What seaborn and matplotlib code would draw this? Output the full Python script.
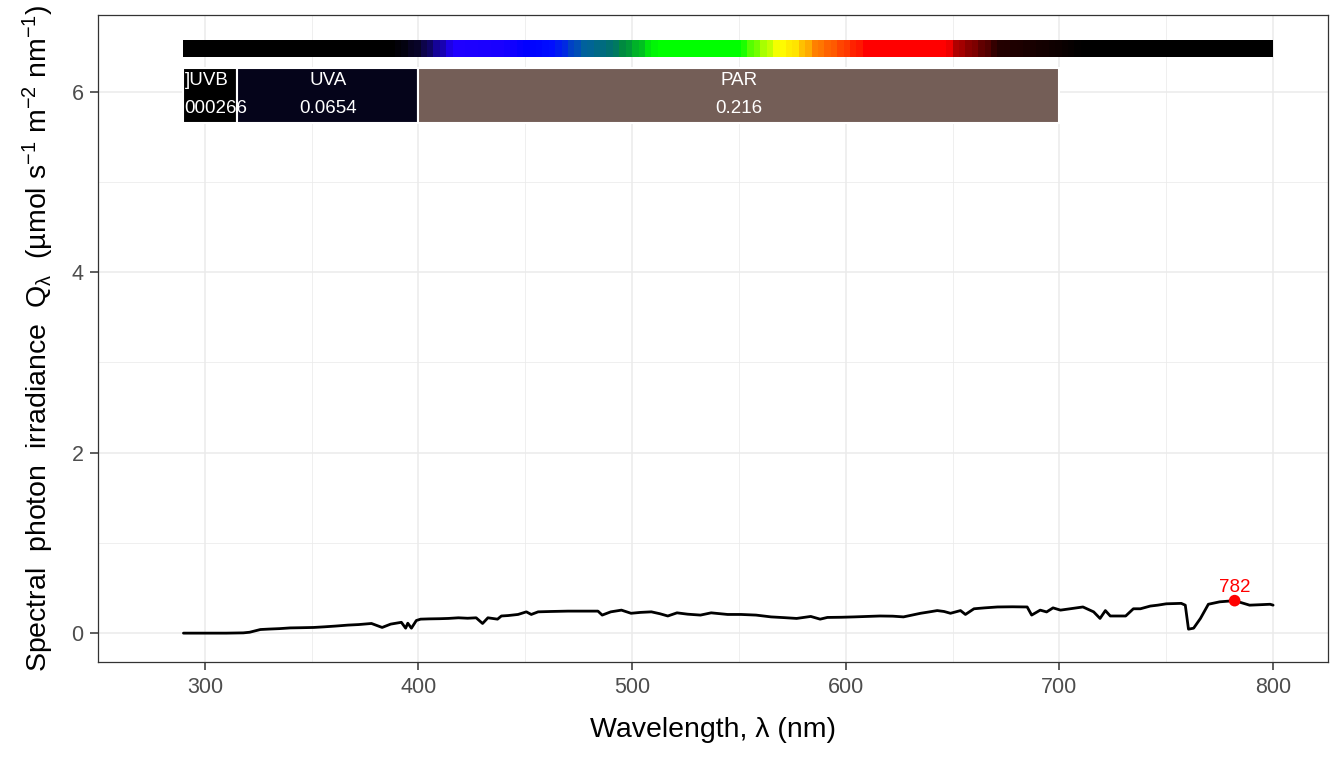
import numpy as np
import pandas as pd
import matplotlib
matplotlib.use("Agg")
import matplotlib.pyplot as plt
import seaborn as sns
from matplotlib.colors import LinearSegmentedColormap

# spectral photon irradiance (wavelength in nm)
wavelength = [290, 300, 310, 318, 321, 326, 330, 335, 340, 345, 351, 356, 361, 367, 372,
              378, 383, 387, 392, 394, 395, 396.7, 399, 401, 405, 410, 414, 418.7, 423,
              427, 430, 432.5, 437, 438.8, 442, 446.6, 450.5, 452.8, 456, 462, 470, 478,
              484, 486, 490, 495, 499.5, 504, 509, 513, 516.7, 521, 526, 532, 537, 544.7,
              551, 558, 565, 571, 577, 583.6, 588, 591.4, 598, 604, 610, 616, 622, 627,
              631, 635, 639, 642.8, 646, 649, 653.7, 656, 660, 665, 671, 678, 684.9, 687,
              691, 694, 697, 700.5, 705, 711, 716, 719, 721.5, 723.8, 727, 731, 734.6,
              737.9, 742.5, 746, 750, 757, 758.9, 760.4, 762.8, 766, 769.7, 775, 782,
              789, 794, 798.6, 800]
irradiance = [0.0, 0.0, 0.0, 0.003, 0.01, 0.04, 0.045, 0.05, 0.058, 0.06, 0.063, 0.07,
              0.078, 0.089, 0.095, 0.107, 0.063, 0.1, 0.12, 0.055, 0.11, 0.055, 0.14,
              0.155, 0.158, 0.16, 0.163, 0.17, 0.165, 0.17, 0.107, 0.17, 0.155, 0.19,
              0.195, 0.207, 0.236, 0.207, 0.236, 0.24, 0.244, 0.244, 0.244, 0.2, 0.236,
              0.255, 0.22, 0.23, 0.236, 0.215, 0.19, 0.225, 0.21, 0.2, 0.225, 0.207,
              0.207, 0.2, 0.18, 0.172, 0.163, 0.185, 0.155, 0.174, 0.176, 0.18, 0.185,
              0.19, 0.188, 0.18, 0.2, 0.22, 0.235, 0.25, 0.24, 0.22, 0.25, 0.207, 0.27,
              0.28, 0.29, 0.292, 0.29, 0.2, 0.255, 0.235, 0.28, 0.255, 0.27, 0.29, 0.236,
              0.163, 0.25, 0.19, 0.19, 0.19, 0.27, 0.27, 0.30, 0.31, 0.325, 0.33, 0.31,
              0.044, 0.055, 0.163, 0.32, 0.347, 0.36, 0.31, 0.315, 0.32, 0.31]

peak_wl = 782
peak_val = 0.36

# waveband summaries (UVB text is cut on the left in the original)
band_names = ["]UVB", "UVA", "PAR"]
band_values = ["000266", "0.0654", "0.216"]
band_lo = [290, 315, 400]
band_hi = [315, 400, 700]
band_colours = ["#000000", "#05041A", "#745E57"]

# colour stops for the wavelength colour bar
cbar_wl = [290, 388, 400, 416, 440, 451, 464, 477, 490, 496, 504, 511, 550, 559, 565, 569,
           577, 586, 596, 610, 647, 652, 662, 672, 697, 712, 800]
cbar_col = ["#000000", "#000000", "#0A0530", "#2000FF", "#1800FF", "#0000FF", "#0010FF",
            "#0060A0", "#007070", "#008A40", "#00C020", "#00FF00", "#00FF00", "#80FF00",
            "#D0FF00", "#FFFF00", "#FFE000", "#FF8000", "#FF5000", "#FF0000", "#FF0000",
            "#B00000", "#700000", "#250000", "#100000", "#000000", "#000000"]

sns.set_theme(style="white")
plt.rcParams["font.family"] = ["Liberation Sans", "DejaVu Sans"]
plt.rcParams["mathtext.fontset"] = "custom"
plt.rcParams["mathtext.rm"] = "Liberation Sans"
plt.rcParams["mathtext.it"] = "Liberation Sans"
plt.rcParams["mathtext.default"] = "regular"

fig = plt.figure(figsize=(13.44, 7.68), dpi=100)
ax = fig.add_axes([0.0729, 0.138, 0.9152, 0.8425])

df = pd.DataFrame({"wl": wavelength, "q": irradiance})
sns.lineplot(data=df, x="wl", y="q", color="black", linewidth=2.0, ax=ax, zorder=4)
sns.scatterplot(x=[peak_wl], y=[peak_val], color="red", s=70, edgecolor="none", ax=ax, zorder=5)
ax.text(peak_wl, peak_val + 0.05, str(peak_wl), color="red", fontsize=13.5,
        ha="center", va="bottom", zorder=5)

# wavelength colour bar
cmap = LinearSegmentedColormap.from_list(
    "vis", [((w - 290) / 510, c) for w, c in zip(cbar_wl, cbar_col)])
tile_w = 3
tiles = np.arange(290, 800, tile_w)
ax.bar(tiles, 0.19, width=tile_w, bottom=6.386, align="edge",
       color=[cmap((t + tile_w / 2 - 290) / 510) for t in tiles], linewidth=0, zorder=3)

# waveband boxes
for lo, hi, col, name, val in zip(band_lo, band_hi, band_colours, band_names, band_values):
    ax.bar(lo, 0.61, width=hi - lo, bottom=5.654, align="edge", color=col,
           edgecolor="white", linewidth=1.5, zorder=3)
    if name.startswith("]"):
        xpos, ha = lo + 0.6, "left"
    else:
        xpos, ha = (lo + hi) / 2, "center"
    ax.text(xpos, 6.12, name, color="white", fontsize=13.5, ha=ha, va="center", zorder=6)
    ax.text(xpos, 5.81, val, color="white", fontsize=13.5, ha=ha, va="center", zorder=6)

ax.set_xlim(251, 825.7)
ax.set_ylim(-0.32, 6.85)
ax.set_xticks([300, 400, 500, 600, 700, 800])
ax.set_xticks([250, 350, 450, 550, 650, 750], minor=True)
ax.set_yticks([0, 2, 4, 6])
ax.set_yticks([1, 3, 5], minor=True)
ax.grid(which="major", color="#EBEBEB", linewidth=1.1, zorder=0)
ax.grid(which="minor", color="#EBEBEB", linewidth=0.55, zorder=0)
ax.set_axisbelow(True)
for s in ax.spines.values():
    s.set_color("#333333")
    s.set_linewidth(0.9)
ax.tick_params(which="major", direction="out", length=5.5, width=1.1, color="#333333",
               labelcolor="#4D4D4D", labelsize=15.5, left=True, bottom=True)
ax.tick_params(axis="x", which="major", pad=5)
ax.tick_params(axis="y", which="major", pad=5)
ax.tick_params(which="minor", length=0)

ax.set_xlabel("Wavelength, λ (nm)", fontsize=20.5, color="black", labelpad=14)
ax.set_ylabel(r"Spectral  photon  irradiance  $Q_{\lambda}$  (µmol s$^{-1}$ m$^{-2}$ nm$^{-1}$)",
              fontsize=20.5, color="black", labelpad=11)

fig.savefig("out.png", dpi=100)
